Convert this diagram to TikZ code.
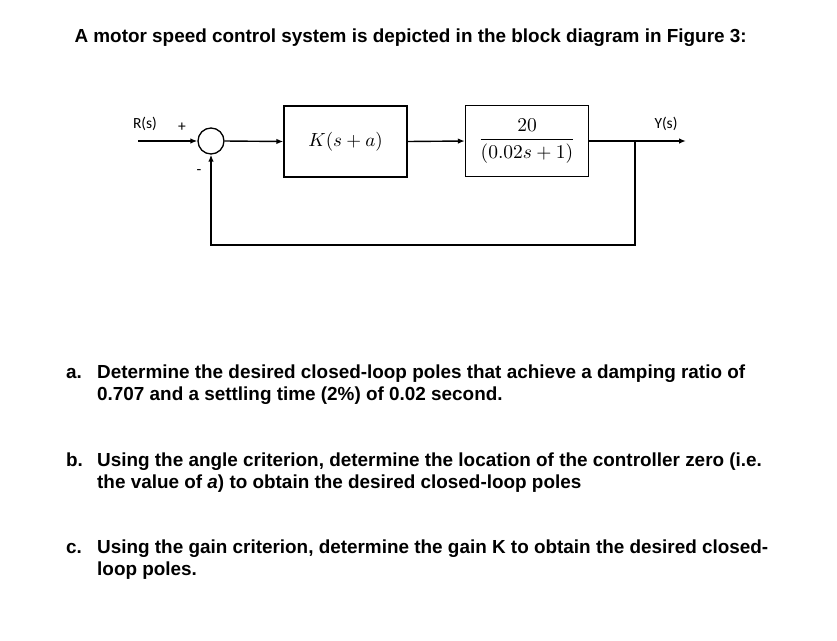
\documentclass[tikz,border=0pt]{standalone}
\usepackage{amsmath}
\usepackage{fontspec}
\setmainfont{Liberation Sans}
\newfontfamily\carlitofont{Carlito}
\usetikzlibrary{arrows.meta}
\begin{document}
\begin{tikzpicture}[x=1pt,y=-1pt,
 blk/.style={draw,line width=1.3pt,minimum width=123pt,minimum height=71pt,inner sep=0pt},
 wire/.style={line width=1.4pt},
 arr/.style={wire,-{Latex[length=7pt,width=5.5pt]}},
 lbl/.style={font=\carlitofont\fontsize{15.5}{18}\selectfont},
 txt/.style={anchor=north west,inner sep=0pt,align=left,font=\bfseries\fontsize{18.9}{22}\selectfont}]
\useasboundingbox (0,0) rectangle (837,640);
\node[anchor=base west,font=\bfseries\fontsize{18.9}{22}\selectfont] (title) at (71,42) {A motor speed control system is depicted in the block diagram in Figure 3:};
\node[draw,circle,line width=1.3pt,minimum size=26pt,inner sep=0pt] (sum) at (211,141) {};
\node[blk] (g1) at (345.5,141.5) {\scalebox{1.9}{$K(s+a)$}};
\node[blk] (g2) at (527,141) {\scalebox{1.95}{$\dfrac{20}{(0.02s+1)}$}};
\coordinate (rin) at (138,141);
\coordinate (yout) at (686,141);
\coordinate (br) at (635,141);
\coordinate (bl) at (635,245);
\coordinate (bll) at (211,245);
\draw[arr] (rin) -- (sum.west);
\draw[arr] (sum.east) -- (g1.west);
\draw[arr] (g1.east) -- (g2.west);
\draw[arr] (g2.east) -- (yout);
\draw[arr] (br) -- (bl) -- (bll) -- (sum.south);
\node[lbl] (r) at (145,124) {R(s)};
\node[lbl] (p) at (182,127) {+};
\node[lbl] (m) at (199,172) {-};
\node[lbl] (y) at (666,124) {Y(s)};
\node[txt] (a) at (66,363) {\strut a.};
\node[txt] (at) at (97,363) {\strut Determine the desired closed-loop poles that achieve a damping ratio of\\0.707 and a settling time (2\%) of 0.02 second.};
\node[txt] (b) at (66,451) {\strut b.};
\node[txt] (bt) at (97,451) {\strut Using the angle criterion, determine the location of the controller zero (i.e.\\the value of \textit{a}) to obtain the desired closed-loop poles};
\node[txt] (c) at (66,538) {\strut c.};
\node[txt] (ct) at (97,538) {\strut Using the gain criterion, determine the gain K to obtain the desired closed-\\loop poles.};
\end{tikzpicture}
\end{document}
